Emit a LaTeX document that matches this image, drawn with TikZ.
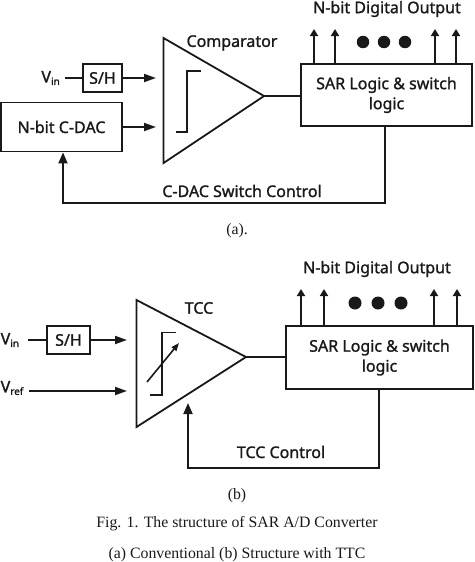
\documentclass[tikz,border=0pt]{standalone}
\usepackage{fontspec}
\setmainfont{Liberation Serif}
\newfontfamily\lblfont[FakeBold=1.3]{Noto Sans}
\usetikzlibrary{arrows.meta}
\definecolor{ink}{gray}{0.1}
\tikzset{
 wire/.style={draw=ink,line width=1.8pt},
 sig/.style={wire,-{Triangle[length=12pt,width=8pt]}},
 outp/.style={wire,-{Triangle[length=7pt,width=8pt]}},
 blockbox/.style={draw=ink,line width=1.8pt,inner sep=0pt,align=center},
 lbl/.style={inner sep=0pt,text=ink,font=\lblfont\fontsize{16}{20}\selectfont,align=center},
 captxt/.style={inner sep=0pt,text=ink,font=\fontsize{15.8}{18}\selectfont},
 dotmark/.style={circle,fill=ink,inner sep=0pt,minimum size=12.5pt},
}
\newcommand{\subs}[2]{#1\raisebox{-2.5pt}{\fontsize{10}{10}\selectfont #2}}
\begin{document}
\begin{tikzpicture}[x=1pt,y=-1pt]
\useasboundingbox (0,0) rectangle (474,562);
% ---- (a)
\node[blockbox,minimum width=39pt,minimum height=28pt,lbl] (sha) at (102.5,78) {S/H};
\node[blockbox,minimum width=121pt,minimum height=49pt,lbl] (dac) at (61.5,127) {N-bit C-DAC};
\node[blockbox,minimum width=171pt,minimum height=62pt,lbl] (sara) at (386.5,95) {SAR Logic \& switch\\logic};
\node[lbl,anchor=east] (vina) at (60,78) {\subs{V}{in}};
\coordinate (ta) at (163.5,38); \coordinate (tb) at (163.5,163); \coordinate (tc) at (264,96);
\draw[wire,line join=miter] (ta) -- (tb) -- (tc) -- cycle;
\draw[wire] (176,132) -- (187,132) -- (187,71) -- (201,71);
\node[lbl] (cmp) at (232,43) {Comparator};
\coordinate (ina) at (156,78); \coordinate (inb) at (156,127); \coordinate (visa) at (65,78);
\draw[wire] (visa) -- (sha.west);
\draw[sig] (sha.east) -- (ina);
\draw[sig] (dac.east |- inb) -- (inb);
\draw[wire] (tc) -- (tc -| sara.west);
\foreach \x/\n in {314/a,335/b,435/c,456/d}{
  \coordinate (oa\n) at (\x,29);
  \draw[outp] (oa\n |- sara.north) -- (oa\n);
}
\node[dotmark] (da1) at (363,42) {};
\node[dotmark] (da2) at (384,42) {};
\node[dotmark] (da3) at (405,42) {};
\node[lbl] (outa) at (387,9) {N-bit Digital Output};
\coordinate (fa1) at (385,203); \coordinate (fa2) at (63,203);
\draw[wire,-{Triangle[length=11pt,width=9pt]}] (fa1 |- sara.south) -- (fa1) -- (fa2) -- (fa2 |- dac.south);
\node[lbl] (ctla) at (242,191) {C-DAC Switch Control};
\node[captxt] (capa) at (237,231) {(a).};
% ---- (b)
\node[blockbox,minimum width=43pt,minimum height=28pt,lbl] (shb) at (68.5,340) {S/H};
\node[blockbox,minimum width=187pt,minimum height=63pt,lbl] (sarb) at (379.5,357.5) {SAR Logic \& switch\\logic};
\node[lbl,anchor=west] (vinb) at (0.5,340) {\subs{V}{in}};
\node[lbl,anchor=west] (vref) at (0.5,388) {\subs{V}{ref}};
\coordinate (ua) at (136.5,300); \coordinate (ub) at (136.5,427); \coordinate (uc) at (246,357);
\draw[wire,line join=miter] (ua) -- (ub) -- (uc) -- cycle;
\draw[wire] (150,395) -- (162,395) -- (162,332.5) -- (176,332.5);
\coordinate (adja) at (147,382); \coordinate (adjb) at (179,343);
\draw[draw=ink,line width=1.6pt,-{Triangle[length=8pt,width=6pt]}] (adja) -- (adjb);
\node[lbl] (tcc) at (199,308) {TCC};
\coordinate (inc) at (127,340); \coordinate (ind) at (127,391); \coordinate (vrs) at (29,391); \coordinate (vis) at (28,340);
\draw[wire] (vis) -- (shb.west);
\draw[sig] (shb.east) -- (inc);
\draw[sig] (vrs) -- (ind);
\draw[wire] (uc) -- (uc -| sarb.west);
\foreach \x/\n in {301/a,324/b,434/c,457/d}{
  \coordinate (ob\n) at (\x,289);
  \draw[outp] (ob\n |- sarb.north) -- (ob\n);
}
\node[dotmark,minimum size=13pt] (db1) at (355,303) {};
\node[dotmark,minimum size=13pt] (db2) at (378,303) {};
\node[dotmark,minimum size=13pt] (db3) at (401,303) {};
\node[lbl] (outb) at (377,269) {N-bit Digital Output};
\coordinate (fb1) at (379,468); \coordinate (fb2) at (188,468); \coordinate (fb3) at (188,403);
\draw[wire,-{Triangle[length=11pt,width=9pt]}] (fb1 |- sarb.south) -- (fb1) -- (fb2) -- (fb3);
\node[lbl] (ctlb) at (281,452) {TCC Control};
\node[captxt] (capb) at (237,496) {(b)};
\node[captxt] (fig) at (237,524) {Fig. 1. The structure of SAR A/D Converter};
\node[captxt] (sub) at (237,555) {(a) Conventional (b) Structure with TTC};
\end{tikzpicture}
\end{document}
